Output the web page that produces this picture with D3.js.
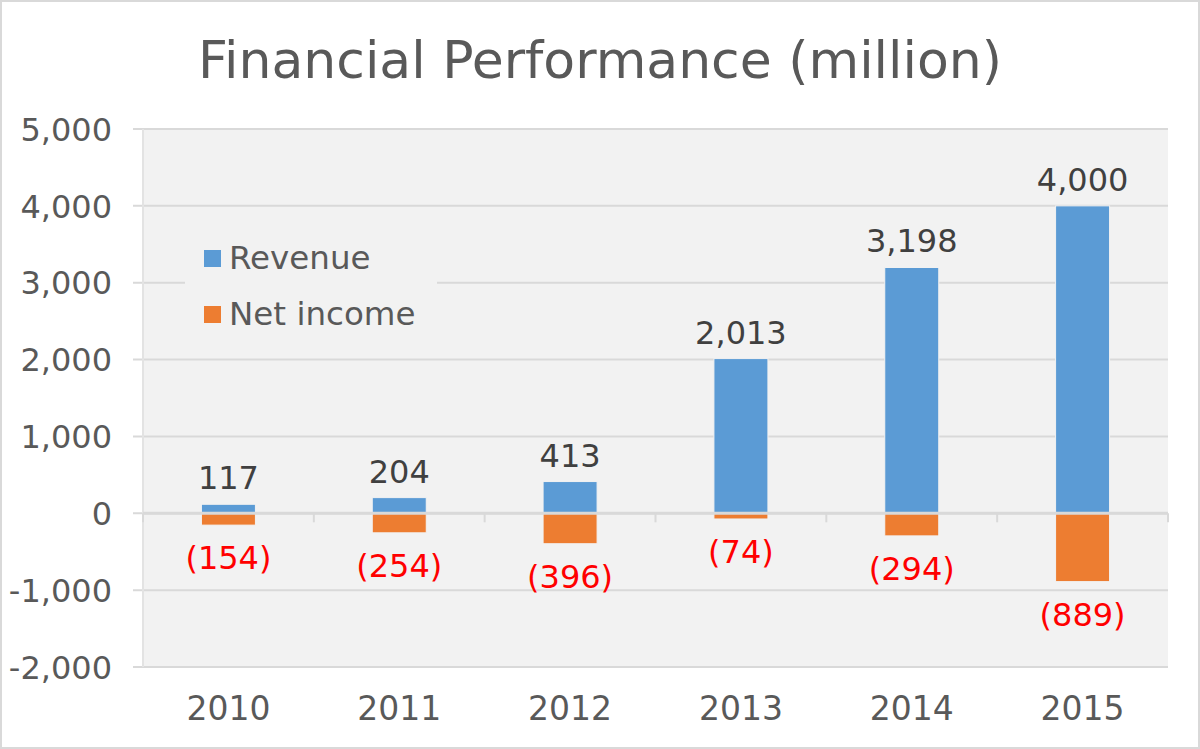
<!DOCTYPE html>
<html><head><meta charset="utf-8">
<script src="https://cdn.jsdelivr.net/npm/d3@7"></script>
<style>body{margin:0;background:#fff}svg{display:block}text{font-family:"DejaVu Sans",sans-serif}</style>
</head><body><svg id="c" width="1200" height="749"></svg>
<script>
const years = ["2010","2011","2012","2013","2014","2015"];
const revenue = [117, 204, 413, 2013, 3198, 4000];
const netIncome = [-154, -254, -396, -74, -294, -889];
const yTicks = [-2000, -1000, 0, 1000, 2000, 3000, 4000, 5000];
const title = "Financial Performance (million)";
const seriesNames = ["Revenue", "Net income"];
const colors = ["#5b9bd5", "#ed7d31"];

const svg = d3.select("#c");
const W = 1200, H = 749;
const m = {left:143, right:1168, top:129, bottom:667};
const loc = d3.formatLocale({decimal:".", thousands:",", grouping:[3], currency:["$",""], minus:"-"});
const fmt = loc.format(",");

svg.append("rect").attr("x",1).attr("y",1).attr("width",W-2).attr("height",H-2)
  .attr("fill","#fff").attr("stroke","#d9d9d9").attr("stroke-width",2);

const x = d3.scaleBand().domain(years).range([m.left, m.right]).paddingInner(0).paddingOuter(0);
const y = d3.scaleLinear().domain([-2000, 5000]).range([m.bottom, m.top]);
const barW = 54;

svg.append("rect").attr("x",m.left).attr("y",m.top).attr("width",m.right-m.left).attr("height",m.bottom-m.top)
  .attr("fill","#f2f2f2");

// gridlines + y axis
const yAxis = d3.axisLeft(y).tickValues(yTicks).tickSize(0).tickPadding(31).tickFormat(fmt);
const gy = svg.append("g").attr("transform",`translate(${m.left},0)`).call(yAxis);
gy.select(".domain").remove();
gy.selectAll("text").attr("font-size",32).attr("font-family","DejaVu Sans").attr("fill","#595959").attr("dy","0.35em");
svg.append("g").selectAll("line").data(yTicks).join("line")
  .attr("x1",m.left-10).attr("x2",m.right).attr("y1",d=>y(d)).attr("y2",d=>y(d))
  .attr("stroke","#d9d9d9").attr("stroke-width",2);
svg.append("line").attr("x1",m.left).attr("x2",m.left).attr("y1",m.top).attr("y2",m.bottom)
  .attr("stroke","#e3e3e3").attr("stroke-width",2);

// bars
const g = svg.append("g");
g.selectAll(".rev").data(years).join("rect").attr("class","rev")
  .attr("x",d=>x(d)+x.bandwidth()/2-barW/2).attr("width",barW)
  .attr("y",(d,i)=>y(revenue[i])).attr("height",(d,i)=>y(0)-y(revenue[i]))
  .attr("fill",colors[0]).attr("stroke","#f2f2f2").attr("stroke-width",1);
g.selectAll(".ni").data(years).join("rect").attr("class","ni")
  .attr("x",d=>x(d)+x.bandwidth()/2-barW/2).attr("width",barW)
  .attr("y",y(0)).attr("height",(d,i)=>y(netIncome[i])-y(0))
  .attr("fill",colors[1]).attr("stroke","#f2f2f2").attr("stroke-width",1);

// x axis
const gx = svg.append("g").attr("transform",`translate(0,${y(0)})`);
gx.append("line").attr("x1",m.left).attr("x2",m.right).attr("stroke","#d9d9d9").attr("stroke-width",3);
const bounds = years.map(d=>x(d)).concat([m.right]);
gx.selectAll(".tk").data(bounds).join("line").attr("class","tk")
  .attr("x1",d=>d).attr("x2",d=>d).attr("y1",0).attr("y2",9)
  .attr("stroke","#d9d9d9").attr("stroke-width",2);
svg.append("g").selectAll("text").data(years).join("text")
  .attr("x",d=>x(d)+x.bandwidth()/2).attr("y",720).attr("text-anchor","middle")
  .attr("font-size",33).attr("fill","#595959").text(d=>d);

// data labels
svg.append("g").selectAll("text").data(years).join("text")
  .attr("x",d=>x(d)+x.bandwidth()/2).attr("y",(d,i)=>y(revenue[i])-15)
  .attr("text-anchor","middle").attr("font-size",32).attr("fill","#404040")
  .text((d,i)=>fmt(revenue[i]));
svg.append("g").selectAll("text").data(years).join("text")
  .attr("x",d=>x(d)+x.bandwidth()/2).attr("y",(d,i)=>y(netIncome[i])+44)
  .attr("text-anchor","middle").attr("font-size",32).attr("fill","#ff0000")
  .text((d,i)=>"(" + fmt(Math.abs(netIncome[i])) + ")");

// legend
const lg = svg.append("g");
lg.append("rect").attr("x",185).attr("y",225).attr("width",252).attr("height",115).attr("fill","#f2f2f2");
seriesNames.forEach((s,i)=>{
  lg.append("rect").attr("x",204).attr("y",250+i*56).attr("width",17).attr("height",17).attr("fill",colors[i]);
  lg.append("text").attr("x",229).attr("y",269+i*56).attr("font-size",32.5).attr("fill","#595959").text(s);
});

// title
svg.append("text").attr("x",600).attr("y",78).attr("text-anchor","middle")
  .attr("font-size",52).attr("fill","#595959").text(title);
</script></body></html>
